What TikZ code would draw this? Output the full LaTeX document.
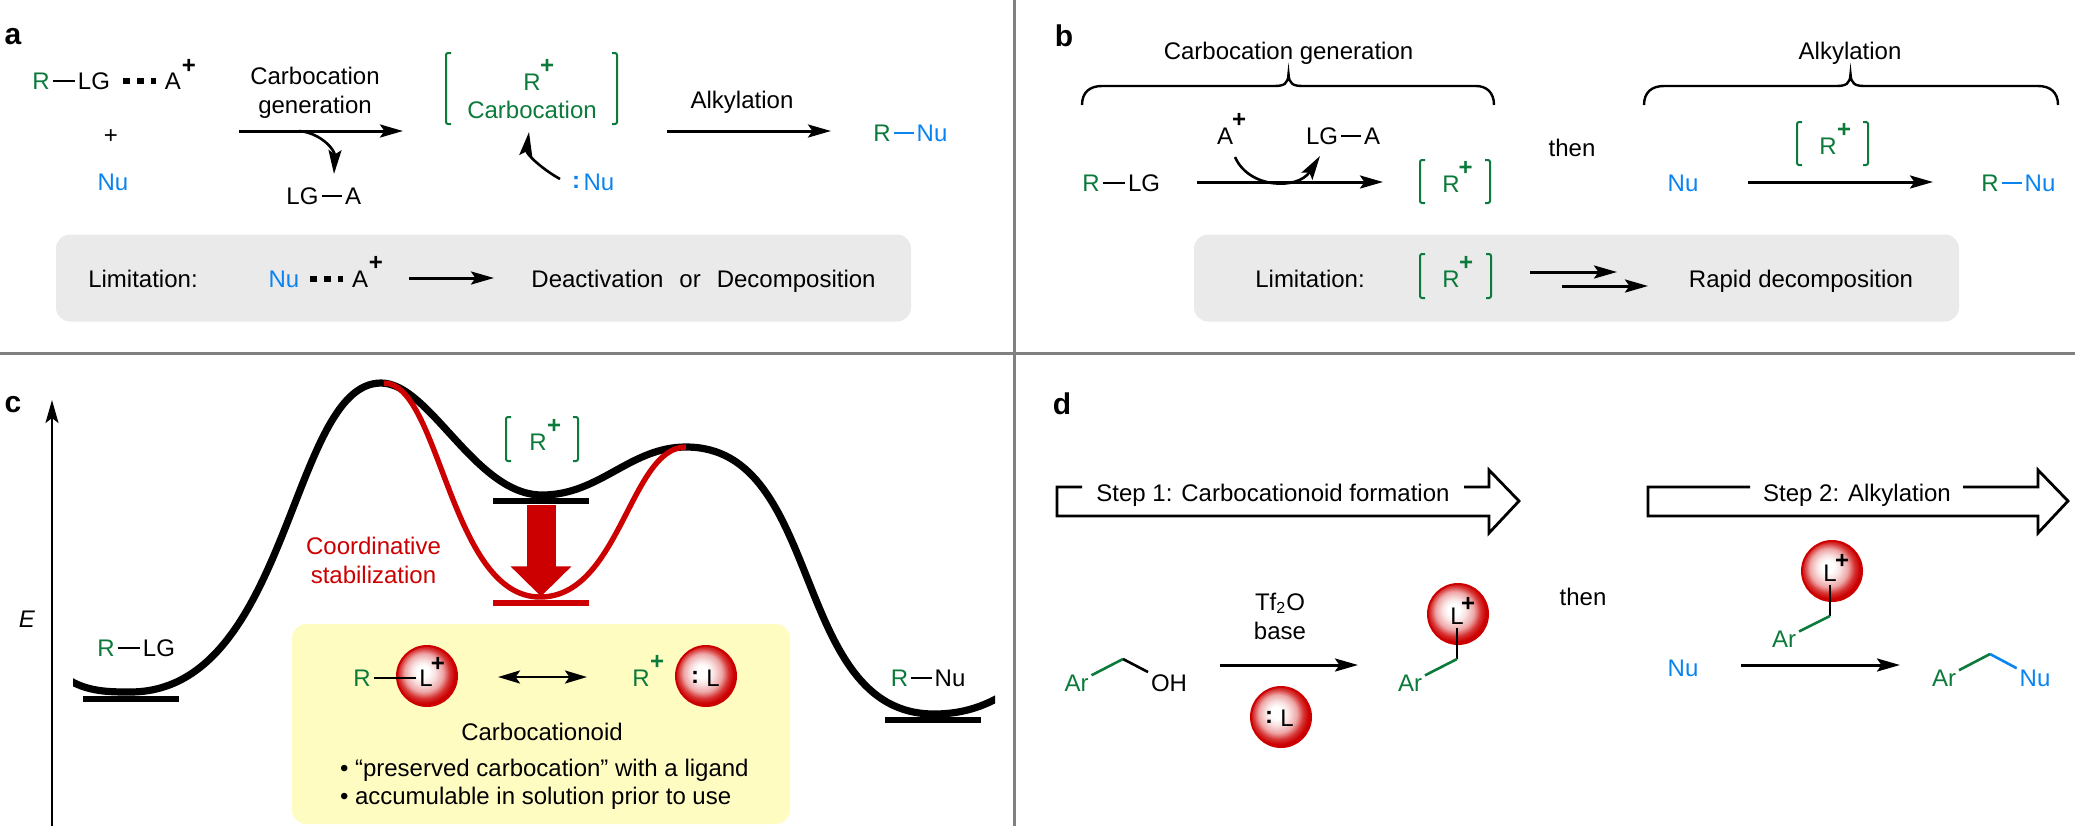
\documentclass[tikz,border=0pt]{standalone}
\usepackage{fontspec}
\setmainfont{Liberation Sans}
\usetikzlibrary{arrows.meta}
\definecolor{rgreen}{HTML}{0B7A3B}
\definecolor{nublue}{HTML}{0A84F0}
\definecolor{stabred}{HTML}{CC0000}
\definecolor{divgray}{HTML}{808080}
\definecolor{limgray}{HTML}{EAEAEA}
\definecolor{carbyellow}{HTML}{FFFCC2}
\pgfdeclareradialshading{redball}{\pgfpoint{-4bp}{4bp}}{color(0bp)=(white);color(5bp)=(white);color(10bp)=(stabred!12!white);color(16bp)=(stabred!35!white);color(21bp)=(stabred!80!white);color(25bp)=(stabred);color(50bp)=(stabred!90!black)}
\newcommand{\chemfont}{\fontsize{12}{14.5}\selectfont}
\begin{document}
\begin{tikzpicture}[x=0.5pt,y=-0.5pt,every node/.style={font=\chemfont},
chem/.style={inner sep=0pt,outer sep=1.5pt,text height=8.6pt,text depth=0pt},grp/.style={chem,text=rgreen},nuc/.style={chem,text=nublue},
multi/.style={inner sep=0pt,align=center},charge/.style={inner sep=0pt,font=\chemfont\bfseries},panel/.style={inner sep=0pt,font=\fontsize{15}{18}\selectfont\bfseries},
limbox/.style={fill=limgray,rounded corners=7pt,minimum width=#1,minimum height=43.5pt,inner sep=0pt},
level/.style={fill=black,minimum width=48pt,minimum height=3.2pt,text height=0pt,inner sep=0pt},
ball/.style={circle,minimum size=30pt,inner sep=0pt,shading=redball,draw=stabred,line width=1pt},
bond/.style={line width=1.4pt},thinbond/.style={line width=1.3pt},lewis/.style={line width=3pt,dash pattern=on 3.3pt off 3.7pt},
rxn/.style={line width=1.5pt,-{Stealth[length=11.5pt,width=6.5pt,inset=2.2pt]}},curv/.style={line width=1.3pt,-{Stealth[length=12pt,width=6.5pt,inset=2.2pt]}},
brk/.style={draw=rgreen,line width=1pt,rounded corners=1pt},curl/.style={line width=1.2pt},hollow/.style={line width=1.4pt,miter limit=10},
energy/.style={line width=3.6pt},coord/.style={line width=2.7pt,draw=stabred}]
\useasboundingbox (0,0) rectangle (2075,826);
\draw[divgray,line width=1.5pt] (1014,0) -- (1014,826);
\draw[divgray,line width=1.5pt] (0,353) -- (2075,353);
% panel a
\node[limbox=427.5pt] (boxa) at (483.5,278) {};
\node[panel] (pa) at (13,37) {a};
\node[grp] (ra) at (41,81) {R};\node[chem] (lga) at (94,81) {LG};\node[chem] (acat) at (173,81) {A};\node[charge] (acatp) at (189,66) {+};
\draw[bond] (ra) -- (lga);\draw[lewis,shorten <=5.2pt,shorten >=3pt] (lga) -- (acat);
\node[chem] (plusa) at (111,135) {+};\node[nuc] (nua) at (113,182) {Nu};
\node[multi] (gena) at (315,93) {Carbocation\\generation};
\coordinate (a1s) at (239,131);\coordinate (a1e) at (403,131);\coordinate (a1m) at (299,131);\coordinate (a1t) at (334,174);
\draw[rxn] (a1s) -- (a1e);\draw[curv] (a1m) .. controls +(22,2) and +(1,-24) .. (a1t);
\node[chem] (lgb) at (302.5,196) {LG};\node[chem] (aneut) at (353,196) {A};\draw[bond] (lgb) -- (aneut);
\draw[brk] (451,53) -| (446,124) -- (451,124);\draw[brk] (612,53) -| (617,124) -- (612,124);
\node[grp] (rcat) at (532,82) {R};\node[charge,text=rgreen] (rcatp) at (547,66) {+};\node[grp] (carba) at (532,110) {Carbocation};
\node[charge,text=nublue] (cola) at (576,182) {:};\node[nuc] (nuca) at (599,182) {Nu};
\coordinate (a2s) at (560,179);\coordinate (a2e) at (529,132);\draw[curv] (a2s) .. controls +(-18,-10) and +(-3,22) .. (a2e);
\coordinate (a3s) at (667,131);\coordinate (a3e) at (831,131);\draw[rxn] (a3s) -- (a3e);
\node[chem] (alka) at (742,100) {Alkylation};
\node[grp] (rpa) at (882,133) {R};\node[nuc] (nupa) at (932,133) {Nu};\draw[bond,nublue] (rpa) -- (nupa);
\node[chem] (lima) at (143,279) {Limitation:};\node[nuc] (nulim) at (284,279) {Nu};\node[chem] (alim) at (360,279) {A};\node[charge] (alimp) at (376,263) {+};
\draw[lewis,shorten <=4pt,shorten >=3pt] (nulim) -- (alim);
\coordinate (a4s) at (409,278);\coordinate (a4e) at (494,278);\draw[rxn] (a4s) -- (a4e);
\node[chem] (deca) at (703.5,279) {Deactivation\hspace{8pt}or\hspace{8pt}Decomposition};
% panel b
\node[limbox=382.5pt] (boxb) at (1576.5,278) {};
\node[panel] (pb) at (1064,36) {b};
\node[chem] (genb) at (1288.5,51) {Carbocation generation};\node[chem] (alkb) at (1850,51) {Alkylation};
\draw[curl] (1082,105) .. controls (1082,92) and (1090,86) .. (1102,86) -- (1274,86) .. controls (1284,86) and (1288,84) .. (1288.5,74) .. controls (1289,84) and (1293,86) .. (1303,86) -- (1476,86) .. controls (1486,86) and (1494,92) .. (1494,105);
\draw[curl] (1644,105) .. controls (1644,92) and (1652,86) .. (1664,86) -- (1836,86) .. controls (1846,86) and (1850,84) .. (1850.5,74) .. controls (1851,84) and (1855,86) .. (1865,86) -- (2038,86) .. controls (2050,86) and (2058,92) .. (2058,105);
\node[chem] (acatb) at (1225,136) {A};\node[charge] (acatbp) at (1239,120) {+};\node[chem] (lgc) at (1322,136) {LG};\node[chem] (aneutb) at (1372,136) {A};\draw[bond] (lgc) -- (aneutb);
\node[grp] (rb) at (1091,183) {R};\node[chem] (lgd) at (1144,183) {LG};\draw[bond] (rb) -- (lgd);
\coordinate (b1s) at (1197,182);\coordinate (b1e) at (1383,182);\draw[rxn] (b1s) -- (b1e);
\coordinate (b2s) at (1235,157);\coordinate (b2e) at (1320,156);\draw[curv] (b2s) .. controls +(14,32) and +(-22,34) .. (b2e);
\draw[brk] (1425,160) -| (1420,203) -- (1425,203);\draw[brk] (1485,160) -| (1490,203) -- (1485,203);
\node[grp] (rcatb) at (1451,184) {R};\node[charge,text=rgreen] (rcatbp) at (1465.5,168) {+};
\node[chem] (thenb) at (1572,148) {then};
\draw[brk] (1802,122) -| (1797,165) -- (1802,165);\draw[brk] (1863,122) -| (1868,165) -- (1863,165);
\node[grp] (rcatc) at (1828,146) {R};\node[charge,text=rgreen] (rcatcp) at (1844,130) {+};
\node[nuc] (nub) at (1683,183) {Nu};\coordinate (b3s) at (1748,182);\coordinate (b3e) at (1933,182);\draw[rxn] (b3s) -- (b3e);
\node[grp] (rpb) at (1990,183) {R};\node[nuc] (nupb) at (2040,183) {Nu};\draw[bond,nublue] (rpb) -- (nupb);
\node[chem] (limb) at (1310,279) {Limitation:};
\draw[brk] (1425,254) -| (1420,298) -- (1425,298);\draw[brk] (1486,254) -| (1491,298) -- (1486,298);
\node[grp] (rcatd) at (1451,279) {R};\node[charge,text=rgreen] (rcatdp) at (1466,263) {+};
\coordinate (b4s) at (1530,272);\coordinate (b4e) at (1617,272);\draw[rxn] (b4s) -- (b4e);
\coordinate (b5s) at (1562,286);\coordinate (b5e) at (1648,286);\draw[rxn] (b5s) -- (b5e);
\node[chem] (rapid) at (1801,279) {Rapid decomposition};
% panel c
\node[panel] (pc) at (13,405) {c};
\coordinate (axb) at (52,826);\coordinate (axt) at (52,400);\draw[line width=0.9pt,-{Stealth[length=11.5pt,width=6.5pt,inset=2.5pt]}] (axb) -- (axt);
\node[chem] (elab) at (27,619) {\textit{E}};
\begin{scope}
\clip (73,360) rectangle (995,826);
\draw[energy] (66,678) .. controls (86,692) and (110,692) .. (130,692) .. controls (290,692) and (290,383) .. (381,383) .. controls (430,383) and (475,495) .. (542,495) .. controls (600,495) and (630,447) .. (686,447) .. controls (825,447) and (790,714) .. (934,714) .. controls (955,714) and (978,710) .. (1003,695);
\end{scope}
\draw[coord] (384,383) .. controls (440,383) and (450,597) .. (540,597) .. controls (620,597) and (630,447) .. (686,447);
\node[level] (lvla) at (131,699) {};\node[level] (lvlb) at (541,501) {};\node[level,fill=stabred] (lvlc) at (541,603) {};\node[level] (lvld) at (933,720) {};
\draw[stabred,line width=14.5pt,shorten >=1.5pt,-{Triangle[length=15pt,width=29.5pt]}] (lvlb.south) -- (lvlc.north);
\draw[brk] (511,417) -| (506,461) -- (511,461);\draw[brk] (573,417) -| (578,461) -- (573,461);
\node[grp] (rcate) at (538,442) {R};\node[charge,text=rgreen] (rcatep) at (554,426) {+};
\node[multi,text=stabred] (stablab) at (373.5,560) {Coordinative\\stabilization};
\node[grp] (rc) at (106,648) {R};\node[chem] (lge) at (159,648) {LG};\draw[bond] (rc) -- (lge);
\node[grp] (rpc) at (899.5,678) {R};\node[chem] (nupc) at (950,678) {Nu};\draw[bond] (rpc) -- (nupc);
\node[fill=carbyellow,rounded corners=7pt,minimum width=249pt,minimum height=100pt,inner sep=0pt] (boxc) at (541,724) {};
\node[ball] (balla) at (427,676) {};\node[grp] (rl) at (362,678) {R};\node[chem] (la) at (426,678) {L};\node[charge] (lap) at (438,664) {+};\draw[bond] (rl) -- (la);
\coordinate (c1s) at (498,677);\coordinate (c1e) at (587,677);\draw[line width=1.4pt,{Stealth[length=11pt,width=6.5pt,inset=2.2pt]}-{Stealth[length=11pt,width=6.5pt,inset=2.2pt]}] (c1s) -- (c1e);
\node[grp] (rfree) at (641,678) {R};\node[charge,text=rgreen] (rfreep) at (657,662) {+};
\node[ball] (ballb) at (706,676) {};\node[charge] (colb) at (695,677) {:};\node[chem] (lb) at (713,678) {L};
\node[chem] (carbn) at (542,732) {Carbocationoid};
\node[chem,anchor=west] (buln) at (337,768) {• “preserved carbocation” with a ligand};
\node[chem,anchor=west] (bulm) at (337,796) {• accumulable in solution prior to use};
% panel d
\node[panel] (pd) at (1062,404) {d};
\draw[hollow] (1082,487) -- (1057,487) -- (1057,516) -- (1489,516) -- (1489,533) -- (1519,501) -- (1489,470) -- (1489,487) -- (1464,487);
\node[chem] (stepa) at (1273,493) {Step 1: Carbocationoid formation};
\draw[hollow] (1750,487) -- (1648,487) -- (1648,516) -- (2038,516) -- (2038,533) -- (2068,501) -- (2038,470) -- (2038,487) -- (1963,487);
\node[chem] (stepb) at (1857,493) {Step 2: Alkylation};
\node[grp] (ara) at (1076.5,683) {Ar};\node[chem] (oh) at (1169,683) {OH};\coordinate (v0) at (1123,659);
\draw[thinbond,rgreen] (ara) -- (v0);\draw[thinbond] (v0) -- (oh);
\node[multi] (tfo) at (1280,616) {Tf\textsubscript{2}O\\base};
\coordinate (d1s) at (1220,665);\coordinate (d1e) at (1358,665);\draw[rxn] (d1s) -- (d1e);
\node[ball] (ballc) at (1281,717) {};\node[charge] (colc) at (1269,717) {:};\node[chem] (lc) at (1287,718) {L};
\node[ball] (balld) at (1458,614) {};\node[chem] (ld) at (1457,616) {L};\node[charge] (ldp) at (1468,604) {+};
\coordinate (v1) at (1457,659);\node[grp] (arb) at (1410,683) {Ar};\draw[thinbond] (ld) -- (v1);\draw[thinbond,rgreen] (v1) -- (arb);
\node[chem] (thend) at (1583,597) {then};
\node[ball] (balle) at (1832,571) {};\node[chem] (le) at (1830,573) {L};\node[charge] (lep) at (1842,561) {+};
\coordinate (v2) at (1830,616);\node[grp] (arc) at (1784,639) {Ar};\draw[thinbond] (le) -- (v2);\draw[thinbond,rgreen] (v2) -- (arc);
\node[nuc] (nud) at (1683,668) {Nu};\coordinate (d2s) at (1741,665);\coordinate (d2e) at (1900,665);\draw[rxn] (d2s) -- (d2e);
\node[grp] (ard) at (1944,678) {Ar};\node[nuc] (nue) at (2035,678) {Nu};\coordinate (v3) at (1990,654);\draw[thinbond,rgreen] (ard) -- (v3);\draw[thinbond,nublue] (v3) -- (nue);
\end{tikzpicture}
\end{document}
